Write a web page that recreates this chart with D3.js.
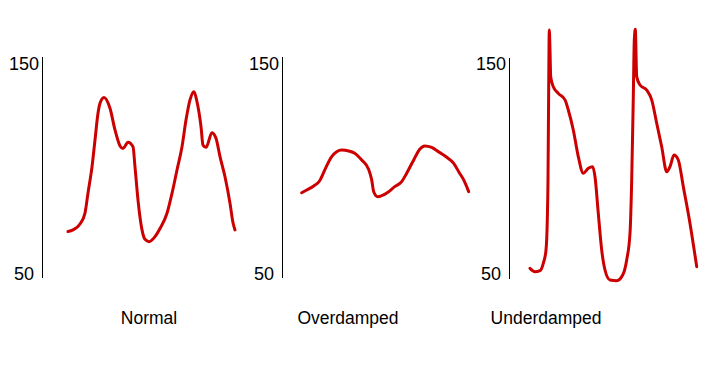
<!DOCTYPE html>
<html>
<head>
<meta charset="utf-8">
<script src="https://cdn.jsdelivr.net/npm/d3@7"></script>
<style>
  html, body { margin: 0; padding: 0; background: #fff; }
  svg { display: block; }
  text { font-family: "Liberation Sans", Arial, sans-serif; fill: #000; }
</style>
</head>
<body>
<svg id="chart" width="709" height="384"></svg>
<script>
// ---- data (time index, pressure mmHg) ----
const titles = ["Normal", "Overdamped", "Underdamped"];
const yTicks = [150, 50];

const normalT = [0,5,12,17,20,24,27,30,32,36,42,47,52,55,60,65,67,70,74,77,81,87,92,99,104,109,114,118,122,126,129,133,135,138,144,148,152,157,162,165,167];
const normalP = [70.2,71,73.8,79,88.6,101,113.8,126.5,131.3,134.1,128.9,118.6,111,109.8,112.7,110.6,101,85.2,71,66.5,65.4,67.8,71.7,78.9,88.4,99.5,110.6,123.3,132.9,136.8,132,120.2,111.4,110.3,117.3,114.6,105.9,96.3,83.7,74.4,71];

const overT = [0,5,12,18,23,30,35,40,47,53,60,67,70,72,76,80,87,93,100,105,112,118,123,130,138,145,152,157,162,167];
const overP = [88.7,90,91.9,94.4,99.5,105.9,108.2,109,108.6,107.5,104.3,99.8,94.8,89.2,86.8,87.3,89.2,91.6,94,98,104.3,109.4,111,110.3,107.8,105.6,102.7,98.7,94.8,89.2];

const underT = [0,5,10,13.3,16,17.3,18,18.7,19.3,20,20.7,23.3,28.3,35,38.3,43.3,48.3,53.3,58.3,62.7,65,68.3,71.7,75,80,86.7,92.7,96.7,100,101.7,103.3,104.3,105.3,106.7,110,116.7,121.7,126.7,131.7,136.7,140,144,148.3,153.3,160,166.7];
const underP = [52.7,51.1,51.6,55.1,61.4,75.7,94.8,139.2,166.2,156.7,144,139.2,136,132.9,128.1,118.6,105.9,98,100.3,101.1,96.3,78.9,61.4,51.9,47.1,46.8,49.5,56.7,69.4,94.8,134.4,161.4,166.5,144,140,137.6,132.9,121.8,110.6,98.7,101.1,106.7,104.3,91.6,74.1,53.5];

const series = [
  { t: normalT, p: normalP },
  { t: overT, p: overP },
  { t: underT, p: underP }
];

// ---- layout ----
const layout = [
  { axisX: 42.5,  axisTop: 57, axisBot: 278, plotX0: 68,    titleX: 149 },
  { axisX: 282.5, axisTop: 57, axisBot: 278, plotX0: 301.7, titleX: 348 },
  { axisX: 509.5, axisTop: 58, axisBot: 279, plotX0: 530,   titleX: 546 }
];

const svg = d3.select("#chart");
const y = d3.scaleLinear().domain([50, 150]).range([274, 64]);

series.forEach((s, i) => {
  const L = layout[i];
  const g = svg.append("g");
  const x = d3.scaleLinear().domain([0, 167]).range([L.plotX0, L.plotX0 + 167]);

  g.append("line")
    .attr("x1", L.axisX).attr("x2", L.axisX)
    .attr("y1", L.axisTop).attr("y2", L.axisBot)
    .attr("stroke", "#000").attr("stroke-width", 1)
    .attr("shape-rendering", "crispEdges");

  g.selectAll("text.tick").data(yTicks).join("text")
    .attr("class", "tick")
    .attr("x", L.axisX - 18.5)
    .attr("y", d => y(d))
    .attr("dy", "0.36em")
    .attr("text-anchor", "middle")
    .style("font-size", "18px")
    .text(d => d);

  const pts = s.t.map((t, k) => [t, s.p[k]]);
  const line = d3.line()
    .x(d => x(d[0]))
    .y(d => y(d[1]))
    .curve(d3.curveMonotoneX);

  g.append("path")
    .datum(pts)
    .attr("d", line)
    .attr("fill", "none")
    .attr("stroke", "#cc0000")
    .attr("stroke-width", 3)
    .attr("stroke-linejoin", "round")
    .attr("stroke-linecap", "round");

  g.append("text")
    .attr("x", L.titleX)
    .attr("y", 324)
    .attr("text-anchor", "middle")
    .style("font-size", "17.5px")
    .text(titles[i]);
});
</script>
</body>
</html>
